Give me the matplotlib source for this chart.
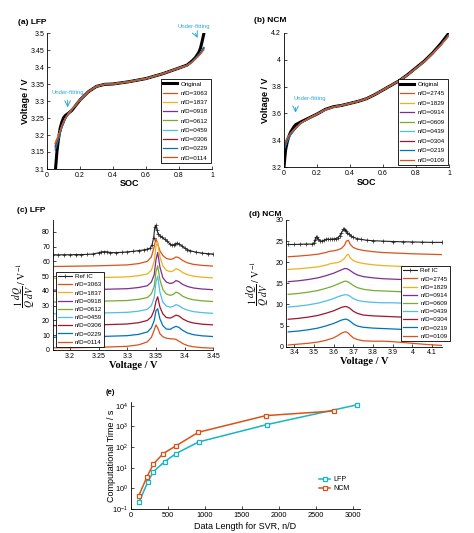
import numpy as np
import matplotlib
matplotlib.use('Agg')
import matplotlib.pyplot as plt

plt.rcParams['font.family'] = ['Liberation Sans', 'DejaVu Sans']
plt.rcParams['mathtext.fontset'] = 'stix'
plt.rcParams['axes.linewidth'] = 0.6

# ---------------- data ----------------
# (a) LFP voltage curves
soc_a_orig = [0.05, 0.06, 0.07, 0.08, 0.09, 0.10, 0.11, 0.13, 0.15, 0.2, 0.25, 0.3, 0.35, 0.4,
              0.5, 0.6, 0.7, 0.8, 0.85, 0.88, 0.9, 0.92, 0.93, 0.94, 0.95]
v_a_orig = [3.09, 3.15, 3.19, 3.22, 3.238, 3.25, 3.257, 3.264, 3.272, 3.303, 3.327, 3.343, 3.349,
            3.350, 3.357, 3.366, 3.38, 3.397, 3.406, 3.418, 3.428, 3.443, 3.455, 3.475, 3.497]
soc_a_fit = [0.05, 0.07, 0.09, 0.11, 0.13, 0.16, 0.2, 0.25, 0.3, 0.35, 0.4, 0.5, 0.6, 0.7,
             0.8, 0.85, 0.88, 0.91, 0.93, 0.95]
lfp_nd = ['3063', '1837', '0918', '0612', '0459', '0306', '0229', '0114']
v_a_fit = [
    [3.175, 3.197, 3.226, 3.248, 3.263, 3.280, 3.303, 3.327, 3.343, 3.349, 3.350, 3.357, 3.366, 3.380, 3.397, 3.405, 3.415, 3.430, 3.440, 3.455],
    [3.180, 3.200, 3.227, 3.248, 3.263, 3.281, 3.303, 3.327, 3.343, 3.349, 3.350, 3.357, 3.366, 3.380, 3.397, 3.405, 3.415, 3.429, 3.439, 3.452],
    [3.170, 3.195, 3.225, 3.247, 3.263, 3.280, 3.303, 3.327, 3.343, 3.349, 3.350, 3.357, 3.366, 3.380, 3.397, 3.405, 3.416, 3.431, 3.442, 3.457],
    [3.165, 3.193, 3.224, 3.247, 3.262, 3.280, 3.303, 3.327, 3.343, 3.349, 3.350, 3.357, 3.366, 3.380, 3.397, 3.405, 3.416, 3.431, 3.442, 3.458],
    [3.160, 3.190, 3.222, 3.246, 3.262, 3.280, 3.303, 3.327, 3.343, 3.349, 3.350, 3.357, 3.366, 3.380, 3.397, 3.405, 3.415, 3.430, 3.441, 3.456],
    [3.165, 3.192, 3.223, 3.247, 3.262, 3.280, 3.303, 3.327, 3.343, 3.349, 3.350, 3.357, 3.366, 3.380, 3.397, 3.405, 3.415, 3.430, 3.440, 3.454],
    [3.155, 3.188, 3.221, 3.246, 3.262, 3.280, 3.303, 3.327, 3.343, 3.349, 3.350, 3.357, 3.366, 3.380, 3.397, 3.405, 3.416, 3.431, 3.442, 3.457],
    [3.175, 3.198, 3.226, 3.248, 3.263, 3.281, 3.303, 3.327, 3.343, 3.349, 3.350, 3.357, 3.366, 3.380, 3.397, 3.405, 3.414, 3.428, 3.438, 3.450],
]

# (b) NCM voltage curves
soc_b_orig = [0.0, 0.005, 0.01, 0.02, 0.03, 0.04, 0.05, 0.06, 0.07, 0.1, 0.15, 0.2, 0.25, 0.3, 0.35,
              0.4, 0.45, 0.5, 0.55, 0.6, 0.65, 0.7, 0.75, 0.8, 0.85, 0.9, 0.95, 1.0]
v_b_orig = [3.2, 3.27, 3.33, 3.39, 3.43, 3.46, 3.48, 3.50, 3.515, 3.535, 3.565, 3.595, 3.63, 3.65,
            3.66, 3.675, 3.69, 3.71, 3.74, 3.775, 3.81, 3.845, 3.89, 3.94, 3.99, 4.05, 4.12, 4.2]
soc_b_fit = [0.0, 0.02, 0.04, 0.06, 0.08, 0.1, 0.15, 0.2, 0.25, 0.3, 0.35, 0.4, 0.45, 0.5,
             0.55, 0.6, 0.65, 0.7, 0.75, 0.8, 0.85, 0.9, 0.95, 1.0]
ncm_nd = ['2745', '1829', '0914', '0609', '0439', '0304', '0219', '0109']
v_b_fit = [
    [3.37, 3.415, 3.450, 3.478, 3.503, 3.527, 3.563, 3.595, 3.628, 3.648, 3.660, 3.675, 3.690, 3.710, 3.740, 3.775, 3.810, 3.845, 3.888, 3.937, 3.987, 4.045, 4.110, 4.185],
    [3.36, 3.410, 3.447, 3.476, 3.502, 3.526, 3.563, 3.595, 3.628, 3.648, 3.660, 3.675, 3.690, 3.710, 3.740, 3.775, 3.810, 3.845, 3.888, 3.937, 3.987, 4.045, 4.110, 4.185],
    [3.34, 3.400, 3.442, 3.473, 3.500, 3.525, 3.562, 3.595, 3.628, 3.648, 3.660, 3.675, 3.690, 3.710, 3.740, 3.775, 3.810, 3.845, 3.888, 3.937, 3.987, 4.045, 4.110, 4.185],
    [3.33, 3.395, 3.440, 3.472, 3.500, 3.525, 3.562, 3.595, 3.628, 3.648, 3.660, 3.675, 3.690, 3.710, 3.740, 3.775, 3.810, 3.845, 3.888, 3.937, 3.987, 4.045, 4.110, 4.185],
    [3.34, 3.398, 3.441, 3.472, 3.500, 3.525, 3.562, 3.595, 3.628, 3.648, 3.660, 3.675, 3.690, 3.710, 3.740, 3.775, 3.810, 3.845, 3.888, 3.937, 3.987, 4.045, 4.110, 4.185],
    [3.35, 3.405, 3.445, 3.474, 3.501, 3.526, 3.562, 3.595, 3.628, 3.648, 3.660, 3.675, 3.690, 3.710, 3.740, 3.775, 3.810, 3.845, 3.888, 3.937, 3.987, 4.045, 4.110, 4.185],
    [3.33, 3.397, 3.440, 3.472, 3.500, 3.525, 3.562, 3.595, 3.628, 3.648, 3.660, 3.675, 3.690, 3.710, 3.740, 3.775, 3.810, 3.845, 3.888, 3.937, 3.987, 4.045, 4.110, 4.185],
    [3.37, 3.418, 3.452, 3.480, 3.504, 3.527, 3.563, 3.595, 3.628, 3.648, 3.660, 3.675, 3.690, 3.710, 3.740, 3.775, 3.810, 3.845, 3.888, 3.937, 3.987, 4.045, 4.110, 4.180],
]

# (c) LFP incremental capacity, stacked
v_c_ref = [3.17, 3.18, 3.19, 3.20, 3.21, 3.22, 3.23, 3.24, 3.25, 3.255, 3.26, 3.265, 3.27, 3.28,
           3.29, 3.30, 3.31, 3.32, 3.33, 3.335, 3.34, 3.343, 3.346, 3.348, 3.350, 3.352, 3.354,
           3.357, 3.36, 3.365, 3.37, 3.375, 3.378, 3.381, 3.384, 3.387, 3.39, 3.395, 3.40, 3.405,
           3.41, 3.42, 3.43, 3.44, 3.45]
ic_c_ref = [64.5, 64.4, 64.5, 64.5, 64.6, 64.6, 64.7, 65.0, 65.8, 66.4, 66.6, 66.4, 66.0, 65.9,
            66.1, 66.4, 66.8, 67.3, 67.8, 68.3, 69.0, 71.0, 76.0, 83.0, 84.5, 81.0, 78.5,
            77.5, 76.5, 75.0, 73.5, 71.5, 70.8, 71.2, 72.0, 72.3, 71.8, 70.5, 69.0, 68.0,
            67.2, 66.2, 65.6, 65.2, 65.0]
v_c = [3.17, 3.2, 3.25, 3.3, 3.32, 3.335, 3.342, 3.347, 3.35, 3.353, 3.357, 3.362, 3.368, 3.375,
       3.38, 3.385, 3.39, 3.397, 3.405, 3.415, 3.43, 3.45]
offsets_c = [56, 48, 40, 32, 24, 16, 8, 0]
ic_c = [
    [0.5, 0.7, 1.0, 1.6, 2.5, 4.0, 7.0, 14.0, 19.5, 16.0, 11.0, 8.0, 6.0, 5.3, 5.8, 7.0, 6.5, 4.5, 3.0, 2.0, 1.3, 0.8],
    [0.5, 0.7, 1.0, 1.5, 2.3, 3.5, 6.0, 12.0, 22.0, 25.0, 15.0, 9.0, 6.0, 5.0, 5.5, 7.0, 6.3, 4.3, 3.0, 2.0, 1.3, 0.8],
    [0.5, 0.7, 1.0, 1.5, 2.3, 3.5, 6.0, 11.0, 21.0, 26.0, 16.0, 9.0, 6.0, 5.0, 5.5, 7.0, 6.3, 4.3, 3.0, 2.0, 1.3, 0.8],
    [0.5, 0.7, 1.0, 1.5, 2.3, 3.5, 6.0, 11.0, 21.0, 25.0, 15.5, 9.0, 6.0, 5.0, 5.6, 7.2, 6.4, 4.3, 3.0, 2.0, 1.3, 0.8],
    [0.5, 0.7, 1.0, 1.5, 2.3, 3.5, 6.0, 11.5, 22.0, 26.0, 15.0, 8.5, 5.8, 5.0, 5.5, 6.7, 6.0, 4.2, 3.0, 2.0, 1.3, 0.8],
    [0.5, 0.7, 1.0, 1.6, 2.5, 4.0, 6.5, 11.0, 17.0, 20.0, 13.0, 8.5, 6.0, 5.6, 6.5, 7.6, 7.0, 5.0, 3.4, 2.3, 1.5, 1.0],
    [0.6, 0.8, 1.1, 1.7, 2.6, 4.2, 7.0, 12.0, 18.5, 20.0, 13.0, 8.5, 6.2, 6.0, 7.2, 8.0, 7.3, 5.2, 3.5, 2.4, 1.6, 1.1],
    [1.5, 1.5, 1.8, 2.5, 3.5, 5.5, 8.5, 13.5, 17.0, 15.0, 11.0, 9.0, 8.0, 7.6, 7.5, 7.2, 6.0, 4.3, 3.0, 2.2, 1.6, 1.2],
]

# (d) NCM incremental capacity, stacked
v_d_ref = [3.37, 3.40, 3.43, 3.46, 3.49, 3.50, 3.505, 3.51, 3.515, 3.52, 3.53, 3.54, 3.55, 3.56,
           3.57, 3.58, 3.59, 3.60, 3.61, 3.62, 3.63, 3.64, 3.65, 3.655, 3.66, 3.665, 3.67, 3.68,
           3.69, 3.70, 3.72, 3.74, 3.77, 3.80, 3.85, 3.90, 3.95, 4.00, 4.05, 4.10, 4.15]
ic_d_ref = [24.2, 24.2, 24.25, 24.3, 24.3, 24.5, 25.2, 25.9, 26.0, 25.6, 25.1, 25.0, 25.2, 25.4,
            25.5, 25.4, 25.5, 25.5, 25.6, 25.8, 26.2, 27.0, 27.8, 27.9, 27.6, 27.3, 27.0, 26.6,
            26.2, 25.9, 25.6, 25.4, 25.2, 25.1, 25.0, 24.9, 24.85, 24.8, 24.75, 24.7, 24.7]
v_d = [3.37, 3.42, 3.47, 3.52, 3.56, 3.58, 3.60, 3.62, 3.64, 3.655, 3.665, 3.675, 3.685, 3.70,
       3.72, 3.75, 3.80, 3.85, 3.90, 3.95, 4.0, 4.08, 4.15]
offsets_d = [21, 18, 15, 12, 9, 6, 3, 0]
ic_d = [
    [0.3, 0.45, 0.65, 0.9, 1.3, 1.6, 1.7, 1.9, 2.3, 3.0, 4.0, 4.2, 3.2, 2.5, 2.1, 1.8, 1.5, 1.3, 1.2, 1.1, 1.0, 0.9, 0.8],
    [0.3, 0.45, 0.65, 0.9, 1.3, 1.6, 1.8, 1.9, 2.3, 2.9, 3.6, 3.9, 3.0, 2.4, 2.0, 1.7, 1.4, 1.2, 1.1, 1.0, 0.9, 0.8, 0.7],
    [0.4, 0.6, 0.9, 1.3, 1.8, 2.1, 2.4, 2.8, 3.2, 3.5, 3.5, 3.3, 3.0, 2.5, 2.0, 1.6, 1.3, 1.1, 1.0, 0.9, 0.8, 0.7, 0.6],
    [0.4, 0.6, 0.9, 1.3, 1.8, 2.1, 2.4, 2.8, 3.2, 3.5, 3.5, 3.3, 3.0, 2.5, 2.0, 1.6, 1.3, 1.2, 1.1, 1.0, 0.9, 0.8, 0.7],
    [0.4, 0.6, 0.9, 1.3, 1.8, 2.1, 2.4, 2.8, 3.1, 3.3, 3.3, 3.2, 2.9, 2.4, 2.0, 1.7, 1.5, 1.4, 1.4, 1.3, 1.2, 1.1, 1.0],
    [0.5, 0.7, 1.0, 1.4, 1.9, 2.2, 2.5, 2.9, 3.3, 3.5, 3.5, 3.3, 3.0, 2.4, 1.9, 1.5, 1.3, 1.2, 1.1, 1.0, 0.9, 0.8, 0.7],
    [0.5, 0.7, 1.0, 1.4, 1.9, 2.2, 2.5, 2.9, 3.3, 3.5, 3.5, 3.3, 3.0, 2.4, 1.9, 1.6, 1.4, 1.3, 1.2, 1.1, 1.0, 0.9, 0.8],
    [0.4, 0.6, 0.8, 1.1, 1.5, 1.8, 2.1, 2.6, 3.2, 3.5, 3.5, 3.2, 2.7, 2.1, 1.7, 1.4, 1.3, 1.3, 1.2, 1.0, 0.8, 0.5, 0.3],
]

# (e) computational time
nd_lfp = [114, 229, 306, 459, 612, 918, 1837, 3063]
t_lfp = [0.22, 1.95, 6.4, 19.5, 48, 175, 1200, 11000]
nd_ncm = [109, 219, 304, 439, 609, 914, 1829, 2745]
t_ncm = [0.44, 3.5, 14.5, 48, 112, 515, 3300, 5500]

# ---------------- figure ----------------
W, H = 474, 533
fig = plt.figure(figsize=(W / 100, H / 100), dpi=100)

def px_axes(l, t, r, b):
    return fig.add_axes([l / W, 1 - b / H, (r - l) / W, (b - t) / H])

def style(ax):
    ax.spines['top'].set_visible(False)
    ax.spines['right'].set_visible(False)
    ax.tick_params(direction='in', length=2, width=0.5, labelsize=5, pad=2)

colors = ['#D95319', '#EDB120', '#7E2F8E', '#77AC30', '#4DBEEE', '#A2142F', '#0072BD', '#D95319']
note_c = '#29A8E0'
serif = ['Liberation Serif', 'DejaVu Serif']
ic_label = r'$\dfrac{1}{Q}\dfrac{dQ}{dV}\ /\ \mathrm{V}^{-1}$'

# (a)
ax = px_axes(47, 33, 212, 169)
style(ax)
ax.plot(soc_a_orig, v_a_orig, color='black', lw=2.2, label='Original')
for nd, v, c in zip(lfp_nd, v_a_fit, colors):
    ax.plot(soc_a_fit, v, color=c, lw=0.9, label='n/D=' + nd)
ax.set_xlim(0, 1)
ax.set_ylim(3.1, 3.5)
ax.set_xticks([0, 0.2, 0.4, 0.6, 0.8, 1])
ax.set_xticklabels(['0', '0.2', '0.4', '0.6', '0.8', '1'])
ax.set_yticks(np.arange(3.1, 3.51, 0.05))
ax.set_yticklabels(['3.1', '3.15', '3.2', '3.25', '3.3', '3.35', '3.4', '3.45', '3.5'])
ax.set_xlabel('SOC', fontsize=6.5, fontweight='bold')
ax.set_ylabel('Voltage / V', fontsize=6.5, fontweight='bold')
ax.xaxis.set_label_coords(0.5, -0.075)
ax.yaxis.set_label_coords(-0.10, 0.5)
ax.legend(loc='lower right', bbox_to_anchor=(1.01, 0.02), fontsize=4.5, frameon=True,
          fancybox=False, edgecolor='black', framealpha=1, handlelength=2.2,
          labelspacing=0.62, borderpad=0.4, handletextpad=0.6).get_frame().set_linewidth(0.6)
ax.annotate('', xy=(0.125, 3.273), xytext=(0.125, 3.31),
            arrowprops=dict(arrowstyle='->', color=note_c, lw=0.7))
ax.text(0.124, 3.318, 'Under-fitting', color=note_c, fontsize=4.2, ha='center', va='bottom')
ax.annotate('', xy=(0.92, 3.478), xytext=(0.893, 3.506),
            arrowprops=dict(arrowstyle='->', color=note_c, lw=0.7), annotation_clip=False)
ax.text(0.89, 3.512, 'Under-fitting', color=note_c, fontsize=4.2, ha='center', va='bottom',
        clip_on=False)
fig.text(18 / W, 1 - 22 / H, '(a) LFP', fontsize=6, fontweight='bold', va='center')

# (b)
ax = px_axes(284, 33, 449, 167)
style(ax)
ax.plot(soc_b_orig, v_b_orig, color='black', lw=2.2, label='Original')
for nd, v, c in zip(ncm_nd, v_b_fit, colors):
    ax.plot(soc_b_fit, v, color=c, lw=0.9, label='n/D=' + nd)
ax.set_xlim(0, 1)
ax.set_ylim(3.2, 4.2)
ax.set_xticks([0, 0.2, 0.4, 0.6, 0.8, 1])
ax.set_xticklabels(['0', '0.2', '0.4', '0.6', '0.8', '1'])
ax.set_yticks([3.2, 3.4, 3.6, 3.8, 4.0, 4.2])
ax.set_yticklabels(['3.2', '3.4', '3.6', '3.8', '4', '4.2'])
ax.set_xlabel('SOC', fontsize=6.5, fontweight='bold')
ax.set_ylabel('Voltage / V', fontsize=6.5, fontweight='bold')
ax.xaxis.set_label_coords(0.5, -0.085)
ax.yaxis.set_label_coords(-0.085, 0.5)
ax.legend(loc='lower right', bbox_to_anchor=(1.01, -0.01), fontsize=4.5, frameon=True,
          fancybox=False, edgecolor='black', framealpha=1, handlelength=2.2,
          labelspacing=0.66, borderpad=0.4, handletextpad=0.6).get_frame().set_linewidth(0.6)
ax.annotate('', xy=(0.07, 3.585), xytext=(0.07, 3.665),
            arrowprops=dict(arrowstyle='->', color=note_c, lw=0.7))
ax.text(0.155, 3.69, 'Under-fitting', color=note_c, fontsize=4.2, ha='center', va='bottom')
fig.text(254 / W, 1 - 21 / H, '(b) NCM', fontsize=6, fontweight='bold', va='center')

# (c)
ax = px_axes(52.7, 220, 213.3, 350)
style(ax)
ax.plot(v_c_ref, ic_c_ref, color='#222222', lw=0.8, marker='+', ms=3, mew=0.5, label='Ref IC')
for nd, y, off, c in zip(lfp_nd, ic_c, offsets_c, colors):
    ax.plot(v_c, np.array(y) + off, color=c, lw=0.9, label='n/D=' + nd)
ax.set_xlim(3.17, 3.45)
ax.set_ylim(0, 88)
ax.set_xticks([3.2, 3.25, 3.3, 3.35, 3.4, 3.45])
ax.set_xticklabels(['3.2', '3.25', '3.3', '3.35', '3.4', '3.45'])
ax.set_yticks(range(0, 81, 10))
ax.set_xlabel('Voltage / V', fontsize=7.5, fontweight='bold', family=serif)
ax.set_ylabel(ic_label, fontsize=7)
ax.xaxis.set_label_coords(0.5, -0.085)
ax.yaxis.set_label_coords(-0.10, 0.5)
ax.legend(loc='lower left', bbox_to_anchor=(0.0, 0.0), fontsize=4.5, frameon=True,
          fancybox=False, edgecolor='black', framealpha=1, handlelength=2.2,
          labelspacing=0.45, borderpad=0.35, handletextpad=0.5).get_frame().set_linewidth(0.6)
fig.text(17 / W, 1 - 210 / H, '(c) LFP', fontsize=6, fontweight='bold', va='center')

# (d)
ax = px_axes(286.3, 220, 442, 346.7)
style(ax)
ax.plot(v_d_ref, ic_d_ref, color='#222222', lw=0.8, marker='+', ms=3, mew=0.5, label='Ref IC')
for nd, y, off, c in zip(ncm_nd, ic_d, offsets_d, colors):
    ax.plot(v_d, np.array(y) + off, color=c, lw=0.9, label='n/D=' + nd)
ax.set_xlim(3.36, 4.15)
ax.set_ylim(0, 30)
ax.set_xticks([3.4, 3.5, 3.6, 3.7, 3.8, 3.9, 4.0, 4.1])
ax.set_xticklabels(['3.4', '3.5', '3.6', '3.7', '3.8', '3.9', '4', '4.1'])
ax.set_yticks(range(0, 31, 5))
ax.set_xlabel('Voltage / V', fontsize=7.5, fontweight='bold', family=serif)
ax.set_ylabel(ic_label, fontsize=7)
ax.xaxis.set_label_coords(0.5, -0.08)
ax.yaxis.set_label_coords(-0.10, 0.5)
ax.legend(loc='lower right', bbox_to_anchor=(1.07, 0.02), fontsize=4.5, frameon=True,
          fancybox=False, edgecolor='black', framealpha=1, handlelength=2.2,
          labelspacing=0.45, borderpad=0.35, handletextpad=0.5).get_frame().set_linewidth(0.6)
fig.text(249 / W, 1 - 214 / H, '(d) NCM', fontsize=6, fontweight='bold', va='center')

# (e)
ax = px_axes(130.7, 402, 360, 509)
style(ax)
ax.plot(nd_lfp, t_lfp, color='#17B5C2', lw=1.1, marker='s', ms=3.5, mfc='white', mew=0.9,
        label='LFP')
ax.plot(nd_ncm, t_ncm, color='#D95319', lw=1.1, marker='s', ms=3.5, mfc='white', mew=0.9,
        label='NCM')
ax.set_yscale('log')
ax.set_xlim(0, 3100)
ax.set_ylim(0.1, 1.5e4)
ax.set_xticks(range(0, 3001, 500))
ax.set_yticks([1e-1, 1e0, 1e1, 1e2, 1e3, 1e4])
ax.minorticks_off()
ax.tick_params(labelsize=5.3)
ax.set_xlabel('Data Length for SVR, n/D', fontsize=6.5)
ax.set_ylabel('Computational Time / s', fontsize=6.5)
ax.xaxis.set_label_coords(0.5, -0.12)
ax.yaxis.set_label_coords(-0.065, 0.5)
ax.legend(loc='lower right', bbox_to_anchor=(0.98, 0.1), fontsize=5, frameon=False,
          handlelength=1.6, labelspacing=0.3, handletextpad=0.4)
fig.text(106 / W, 1 - 392 / H, '(e)', fontsize=5.5, fontweight='bold', va='center')

fig.savefig('out.png', dpi=100)
